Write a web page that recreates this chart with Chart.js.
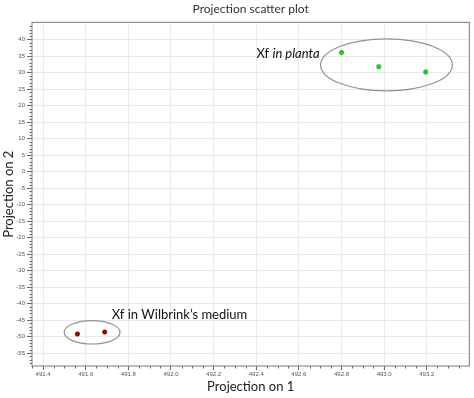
<!DOCTYPE html>
<html>
<head>
<meta charset="utf-8">
<script src="https://cdn.jsdelivr.net/npm/chart.js@4.4.0/dist/chart.umd.min.js"></script>
<style>
  html, body { margin: 0; padding: 0; background: #fff; }
</style>
</head>
<body>
<canvas id="chart" width="474" height="398"></canvas>
<script>
// Projection values
const plantaX = [492.80, 492.975, 493.195];
const plantaY = [36.1, 31.8, 30.2];
const wilbrinkX = [491.561, 491.689];
const wilbrinkY = [-49.25, -48.65];

const xTickValues = [491.4, 491.6, 491.8, 492.0, 492.2, 492.4, 492.6, 492.8, 493.0, 493.2];
const yTickValues = [-55, -50, -45, -40, -35, -30, -25, -20, -15, -10, -5, 0, 5, 10, 15, 20, 25, 30, 35, 40];

// group outlines (centre and radii in data units)
const groupEllipses = [
    { cx: 493.011, cy: 32.36, rx: 0.309, ry: 7.9 },
    { cx: 491.630, cy: -48.73, rx: 0.131, ry: 3.54 }
];

const colors = {
    green: '#2fcf2f',
    greenEdge: '#1a931a',
    red: '#a80000',
    redEdge: '#5a0000',
    grid: '#e9e9e9',
    frame: '#8e8e8e',
    tick: '#666',
    text: '#222'
};

const toPoints = (xs, ys) => xs.map((v, i) => ({ x: v, y: ys[i] }));

const overlay = {
    id: 'overlay',
    beforeDatasetsDraw(chart) {
        const { ctx, scales: { x, y } } = chart;
        ctx.save();
        ctx.strokeStyle = '#8a9696';
        ctx.lineWidth = 1.2;
        groupEllipses.forEach(e => {
            const cx = x.getPixelForValue(e.cx);
            const cy = y.getPixelForValue(e.cy);
            const rx = Math.abs(x.getPixelForValue(e.cx + e.rx) - cx);
            const ry = Math.abs(y.getPixelForValue(e.cy + e.ry) - cy);
            ctx.beginPath();
            ctx.ellipse(cx, cy, rx, ry, 0, 0, Math.PI * 2);
            ctx.stroke();
        });
        ctx.restore();
    },
    afterDraw(chart) {
        const { ctx, chartArea: a, scales: { x, y } } = chart;
        ctx.save();

        // minor ticks
        ctx.strokeStyle = colors.tick;
        ctx.lineWidth = 1;
        ctx.beginPath();
        for (let v = -58; v <= 45; v++) {
            if (v % 5 === 0) continue;
            const py = Math.round(y.getPixelForValue(v)) + 0.5;
            ctx.moveTo(a.left - 2.5, py);
            ctx.lineTo(a.left, py);
        }
        for (let i = 0; i <= 40; i++) {
            const v = 491.35 + i * 0.05;
            if (i % 4 === 1) continue; // majors at 491.4, 491.6 ...
            if (v > x.max) break;
            const px = Math.round(x.getPixelForValue(v)) + 0.5;
            ctx.moveTo(px, a.bottom);
            ctx.lineTo(px, a.bottom + 2.5);
        }
        ctx.stroke();

        // plot frame
        ctx.strokeStyle = colors.frame;
        ctx.lineWidth = 1.2;
        ctx.strokeRect(a.left, a.top, a.right - a.left, a.bottom - a.top);

        // group labels
        ctx.fillStyle = '#111';
        ctx.textBaseline = 'alphabetic';
        let lx = x.getPixelForValue(492.401);
        let ly = y.getPixelForValue(34.5);
        ctx.font = '13px Lato';
        ctx.fillText('Xf ', lx, ly);
        lx += ctx.measureText('Xf ').width;
        ctx.font = 'italic 13px Lato';
        ctx.fillText('in planta', lx, ly);

        ctx.font = '13px Lato';
        ctx.fillText('Xf in Wilbrink’s medium', x.getPixelForValue(491.722), y.getPixelForValue(-44.8));
        ctx.restore();
    }
};

new Chart(document.getElementById('chart'), {
    type: 'scatter',
    data: {
        datasets: [
            {
                label: 'Xf in planta',
                data: toPoints(plantaX, plantaY),
                backgroundColor: colors.green,
                borderColor: colors.greenEdge,
                borderWidth: 0.6,
                pointRadius: 2.2
            },
            {
                label: 'Xf in Wilbrink’s medium',
                data: toPoints(wilbrinkX, wilbrinkY),
                backgroundColor: colors.red,
                borderColor: colors.redEdge,
                borderWidth: 0.6,
                pointRadius: 2.2
            }
        ]
    },
    options: {
        responsive: false,
        animation: false,
        layout: { padding: { left: 0, right: 4, top: 0, bottom: 0 } },
        plugins: {
            legend: { display: false },
            tooltip: { enabled: false },
            title: {
                display: true,
                text: 'Projection scatter plot',
                fullSize: false,
                color: '#333',
                font: { family: 'Lato', size: 12, weight: 'normal' },
                padding: { top: 2, bottom: 6 }
            }
        },
        scales: {
            x: {
                type: 'linear',
                min: 491.348,
                max: 493.40,
                afterBuildTicks: s => { s.ticks = xTickValues.map(v => ({ value: v })); },
                afterFit: s => { s.height = 32; },
                ticks: {
                    color: '#555',
                    font: { family: 'Liberation Sans', size: 6 },
                    padding: 1,
                    maxRotation: 0,
                    autoSkip: false,
                    callback: v => v.toFixed(1)
                },
                grid: { color: colors.grid, tickColor: colors.tick, tickLength: 4 },
                border: { display: false },
                title: {
                    display: true,
                    text: 'Projection on 1',
                    color: colors.text,
                    font: { family: 'Lato', size: 13 },
                    padding: { top: 0, bottom: 3 }
                }
            },
            y: {
                type: 'linear',
                min: -58.94,
                max: 45.24,
                afterBuildTicks: s => { s.ticks = yTickValues.map(v => ({ value: v })); },
                afterFit: s => { s.width = 32; },
                ticks: {
                    color: '#555',
                    font: { family: 'Liberation Sans', size: 6 },
                    padding: 2,
                    autoSkip: false
                },
                grid: { color: colors.grid, tickColor: colors.tick, tickLength: 5 },
                border: { display: false },
                title: {
                    display: true,
                    text: 'Projection on 2',
                    color: colors.text,
                    font: { family: 'Lato', size: 13 },
                    padding: { top: 1, bottom: 0 }
                }
            }
        }
    },
    plugins: [overlay]
});
</script>
</body>
</html>
